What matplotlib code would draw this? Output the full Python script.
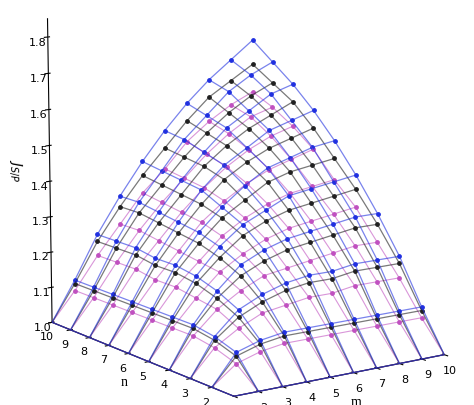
import numpy as np
import matplotlib
matplotlib.use("Agg")
import matplotlib.pyplot as plt

m_vals = list(range(1, 11))
n_vals = list(range(1, 11))

blue = [
 [1.00,1.00,1.00,1.00,1.00,1.00,1.00,1.00,1.00,1.00],
 [1.00,1.08,1.10,1.11,1.11,1.11,1.11,1.11,1.11,1.11],
 [1.00,1.10,1.16,1.19,1.21,1.22,1.22,1.23,1.23,1.23],
 [1.00,1.11,1.19,1.25,1.28,1.30,1.31,1.32,1.33,1.33],
 [1.00,1.11,1.21,1.28,1.33,1.36,1.39,1.40,1.41,1.42],
 [1.00,1.11,1.22,1.30,1.36,1.41,1.45,1.47,1.49,1.50],
 [1.00,1.11,1.22,1.31,1.39,1.45,1.49,1.53,1.55,1.57],
 [1.00,1.11,1.23,1.32,1.40,1.47,1.53,1.57,1.61,1.63],
 [1.00,1.11,1.23,1.33,1.41,1.49,1.55,1.61,1.65,1.68],
 [1.00,1.11,1.23,1.33,1.42,1.50,1.57,1.63,1.68,1.73]]
black = [
 [1.00,1.00,1.00,1.00,1.00,1.00,1.00,1.00,1.00,1.00],
 [1.00,1.07,1.09,1.10,1.10,1.10,1.10,1.10,1.10,1.10],
 [1.00,1.09,1.14,1.17,1.19,1.20,1.20,1.21,1.21,1.21],
 [1.00,1.10,1.17,1.22,1.25,1.27,1.28,1.29,1.30,1.30],
 [1.00,1.10,1.19,1.25,1.30,1.33,1.35,1.36,1.37,1.38],
 [1.00,1.10,1.20,1.27,1.33,1.37,1.41,1.43,1.44,1.45],
 [1.00,1.10,1.20,1.28,1.35,1.41,1.45,1.48,1.50,1.52],
 [1.00,1.10,1.21,1.29,1.36,1.43,1.48,1.52,1.55,1.58],
 [1.00,1.10,1.21,1.30,1.37,1.44,1.50,1.55,1.59,1.62],
 [1.00,1.10,1.21,1.30,1.38,1.45,1.52,1.58,1.62,1.66]]
magenta = [
 [1.00,1.00,1.00,1.00,1.00,1.00,1.00,1.00,1.00,1.00],
 [1.00,1.05,1.07,1.08,1.08,1.08,1.08,1.08,1.08,1.08],
 [1.00,1.07,1.11,1.14,1.15,1.16,1.16,1.17,1.17,1.17],
 [1.00,1.08,1.14,1.18,1.21,1.22,1.23,1.24,1.25,1.25],
 [1.00,1.08,1.15,1.21,1.25,1.28,1.30,1.31,1.32,1.33],
 [1.00,1.08,1.16,1.22,1.28,1.32,1.35,1.37,1.38,1.39],
 [1.00,1.08,1.16,1.23,1.30,1.35,1.39,1.42,1.44,1.46],
 [1.00,1.08,1.17,1.24,1.31,1.37,1.42,1.46,1.49,1.51],
 [1.00,1.08,1.17,1.25,1.32,1.38,1.44,1.49,1.53,1.55],
 [1.00,1.08,1.17,1.25,1.33,1.39,1.46,1.51,1.55,1.58]]

fig = plt.figure(figsize=(4.74, 4.06), dpi=100)
ax = fig.add_axes([-0.12, -0.1, 1.24, 1.25], projection='3d')
ax.set_box_aspect((1, 1.3, 1.25))
M, N = np.meshgrid(m_vals, n_vals, indexing='ij')
for data, col, lw in [(magenta, '#c050c0', 0.8), (black, '#202020', 0.9), (blue, '#2030e0', 0.9)]:
    Z = np.array(data)
    ax.plot_wireframe(M, N, Z, color=col, linewidth=lw, alpha=0.6)
    ax.scatter(M[1:, 1:], N[1:, 1:], Z[1:, 1:], color=col, s=6, depthshade=False)

ax.set_xlim(1, 10); ax.set_ylim(1, 10); ax.set_zlim(1.0, 1.85)
ax.set_xticks(range(1, 11)); ax.set_yticks(range(2, 11))
ax.set_zticks([1.0, 1.1, 1.2, 1.3, 1.4, 1.5, 1.6, 1.7, 1.8])
ax.set_xlabel('m', family='Liberation Serif', labelpad=-8)
ax.set_ylabel('n', family='Liberation Serif', labelpad=-8)
ax.set_zlabel(r'$J_{S/P}$', labelpad=-4)
ax.tick_params(labelsize=8, pad=-3)
for a in (ax.xaxis, ax.yaxis, ax.zaxis):
    a.pane.fill = False
    a.pane.set_edgecolor('white')
    a._axinfo['grid']['linewidth'] = 0
    a.line.set_color('black')
ax.grid(False)
ax.view_init(elev=12, azim=-125)
fig.savefig('out.png', dpi=100)
